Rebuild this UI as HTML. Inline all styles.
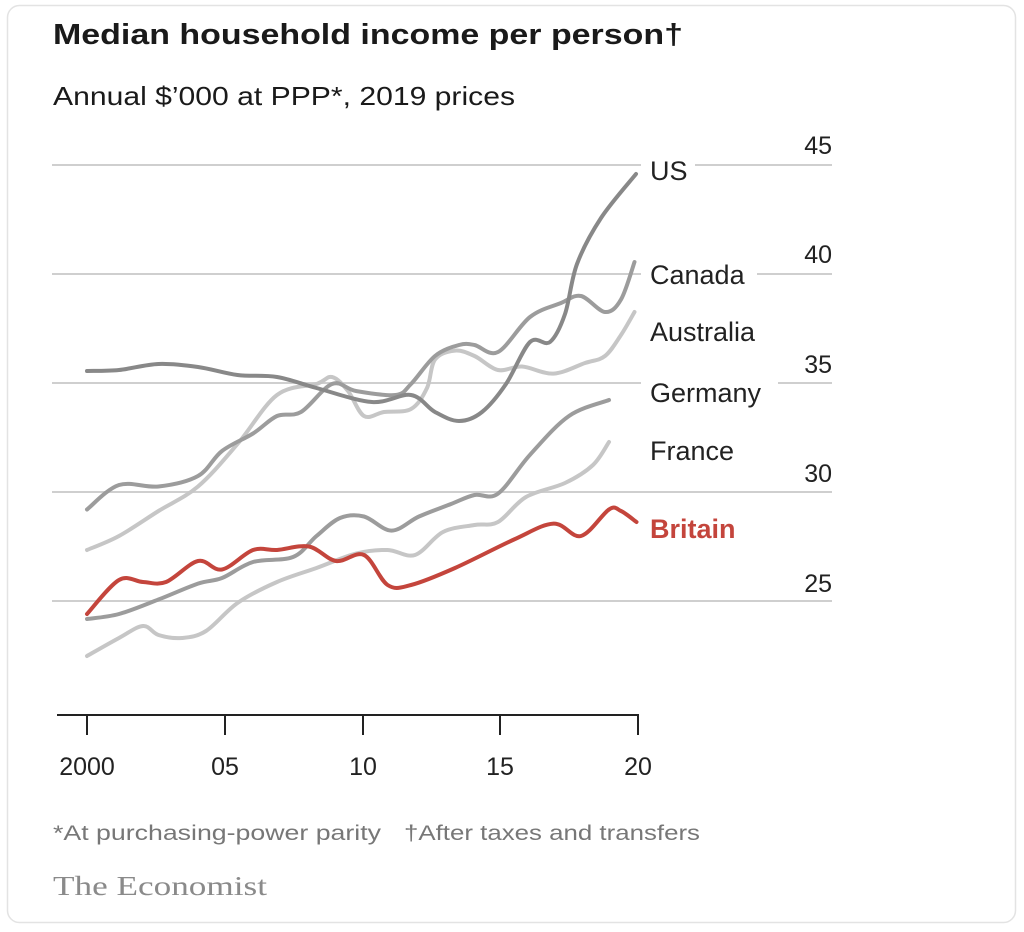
<!DOCTYPE html>
<html><head><meta charset="utf-8"><style>
html,body{margin:0;padding:0;background:#fff;}
svg{display:block;}
text{font-family:"Liberation Sans",sans-serif;}
</style></head><body>
<svg id="s" width="1024" height="932" viewBox="0 0 1024 932" xmlns="http://www.w3.org/2000/svg">
<rect x="7.5" y="5.5" width="1008" height="917" rx="12" fill="#fff" stroke="#e3e3e3" stroke-width="1.5"/>
<text x="53" y="44" font-size="29" font-weight="bold" fill="#1a1a1a" textLength="630" lengthAdjust="spacingAndGlyphs">Median household income per person†</text>
<text x="53" y="105" font-size="26" fill="#1a1a1a" textLength="462" lengthAdjust="spacingAndGlyphs">Annual $’000 at PPP*, 2019 prices</text>
<g stroke="#cfcfcf" stroke-width="2">
<line x1="52" y1="165" x2="641" y2="165"/><line x1="695" y1="165" x2="832" y2="165"/>
<line x1="52" y1="274" x2="641" y2="274"/><line x1="757" y1="274" x2="832" y2="274"/>
<line x1="52" y1="383" x2="641" y2="383"/><line x1="778" y1="383" x2="832" y2="383"/>
<line x1="52" y1="492" x2="832" y2="492"/>
<line x1="52" y1="601" x2="832" y2="601"/>
</g>
<g font-size="25" fill="#222" text-anchor="end">
<text x="832" y="154">45</text><text x="832" y="263">40</text><text x="832" y="373">35</text><text x="832" y="482">30</text><text x="832" y="592">25</text>
</g>
<g id="lines" fill="none" stroke-width="4" stroke-linejoin="round" stroke-linecap="round">
<polyline stroke="#c6c6c6" points="87,656 119,638 143,626 158.5,635 182,638 206,631 237.5,603 277,582 316.5,568 356,553.6 387.6,550 415,555 443,532 474.5,525 498,522 526,497 565,483 593,465 609,442"/>
<polyline stroke="#c6c6c6" points="87,550 119,536 158.5,511 198,486.5 237.5,444 277,395 316.5,384 332,377 348,391 364,416 384,412 411,409 427,388 435,359.5 455,350.6 474.5,356 498,370 522,366.5 553.5,373.6 585,363 605,356 621,335 634.5,312"/>
<polyline stroke="#9c9c9c" points="87,619 119,614 158.5,599.5 198,583.6 222,578 253,562 293,557 316.5,536 340,518 364,516.5 391.5,530.6 419,516.5 451,504 474.5,495 498,493.6 530,454.8 569,416 609,400"/>
<polyline stroke="#9c9c9c" points="87,509.5 119,485 158.5,486.5 198,476 222,451 253,433.5 277,416 301,412 332,384 356,391 395.5,395 411,384 435,356 459,345 474.5,345 498,352 530,317 561,303 581,296 605,312 621,299.5 634.5,262"/>
<polyline stroke="#888" points="87,371 119,370 158.5,364 198,367 237.5,375 277,377 316.5,388 372,402 411,395 435,412 459,421 482,412 506,384 530,342 550,342 565,314 577,264 601,218 636,174"/>
<polyline stroke="#c4453c" points="87,614 119,580 143,582 166,582 198,561 222,569.5 253,550 277,550 309,546.5 336,561 364,555 387.6,585 411,585 455,568 514,539.5 553.5,523.6 581,536 609,509.5 621,511 636.5,522"/>
</g>
<g font-size="27" fill="#222">
<text x="650" y="180">US</text>
<text x="650" y="284">Canada</text>
<text x="650" y="341">Australia</text>
<text x="650" y="402">Germany</text>
<text x="650" y="460">France</text>
<text x="650" y="538" fill="#c4453c" font-weight="bold">Britain</text>
</g>
<g stroke="#222" stroke-width="2">
<line x1="57" y1="715" x2="639" y2="715"/>
<line x1="87" y1="715" x2="87" y2="735"/><line x1="225" y1="715" x2="225" y2="735"/><line x1="363" y1="715" x2="363" y2="735"/><line x1="500" y1="715" x2="500" y2="735"/><line x1="638" y1="715" x2="638" y2="735"/>
</g>
<g font-size="25" fill="#222" text-anchor="middle">
<text x="87" y="775">2000</text><text x="225" y="775">05</text><text x="363" y="775">10</text><text x="500" y="775">15</text><text x="638" y="775">20</text>
</g>
<text x="53" y="840" font-size="21" fill="#777" textLength="328" lengthAdjust="spacingAndGlyphs">*At purchasing-power parity</text>
<text x="404" y="840" font-size="21" fill="#777" textLength="296" lengthAdjust="spacingAndGlyphs">†After taxes and transfers</text>
<text x="53" y="895" font-size="27" fill="#8a8a8a" style="font-family:'Liberation Serif',serif" textLength="214" lengthAdjust="spacingAndGlyphs">The Economist</text>
</svg>
<script>
(function(){
var ns="http://www.w3.org/2000/svg";
var pls=document.querySelectorAll('#lines polyline');
pls.forEach(function(pl){
var p=pl.getAttribute('points').trim().split(/\s+/).map(function(s){var a=s.split(',');return [+a[0],+a[1]];});
var d='M'+p[0][0]+','+p[0][1];
for(var i=0;i<p.length-1;i++){
var p0=p[i-1]||p[i],p1=p[i],p2=p[i+1],p3=p[i+2]||p2;
var c1=[p1[0]+(p2[0]-p0[0])/6,p1[1]+(p2[1]-p0[1])/6];
var c2=[p2[0]-(p3[0]-p1[0])/6,p2[1]-(p3[1]-p1[1])/6];
d+=' C'+c1[0].toFixed(1)+','+c1[1].toFixed(1)+' '+c2[0].toFixed(1)+','+c2[1].toFixed(1)+' '+p2[0]+','+p2[1];
}
var path=document.createElementNS(ns,'path');
path.setAttribute('d',d);path.setAttribute('stroke',pl.getAttribute('stroke'));
pl.parentNode.replaceChild(path,pl);
});
})();
</script>
</body></html>
